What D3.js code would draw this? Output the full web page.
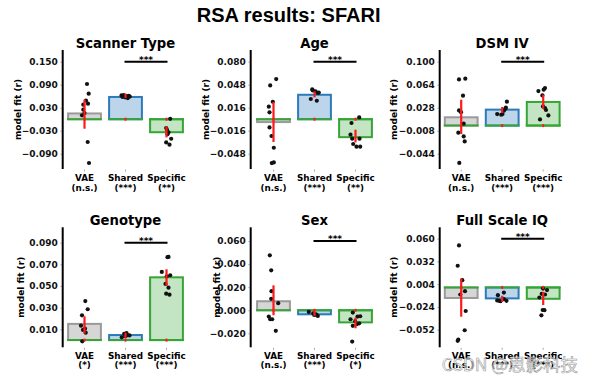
<!DOCTYPE html>
<html><head><meta charset="utf-8">
<script src="https://cdn.jsdelivr.net/npm/d3@7"></script>
<style>body{margin:0;background:#fff}svg{display:block}</style>
</head><body><svg id="c" width="594" height="385"></svg>
<script>
// ---------------- data ----------------
const mainTitle = "RSA results: SFARI";
const categories = ["VAE", "Shared", "Specific"];
const panelTitles = ["Scanner Type", "Age", "DSM IV", "Genotype", "Sex", "Full Scale IQ"];
const sigLabels = [
  ["(n.s.)", "(***)", "(**)"],
  ["(n.s.)", "(***)", "(**)"],
  ["(n.s.)", "(***)", "(***)"],
  ["(*)", "(***)", "(***)"],
  ["(n.s.)", "(***)", "(*)"],
  ["(n.s.)", "(***)", "(***)"]
];
const pairSig = "***";
const yTicks = [
  [0.150, 0.090, 0.030, -0.030, -0.090],
  [0.080, 0.048, 0.016, -0.016, -0.048],
  [0.100, 0.064, 0.028, -0.008, -0.044],
  [0.090, 0.070, 0.050, 0.030, 0.010],
  [0.060, 0.040, 0.020, 0.000, -0.020],
  [0.060, 0.032, 0.004, -0.024, -0.052]
];
const yLimits = [
  [-0.1299, 0.1805],
  [-0.0693, 0.0963],
  [-0.0679, 0.1183],
  [-0.00663, 0.1042],
  [-0.0321, 0.0719],
  [-0.0737, 0.0740]
];
const meanFit = [
  [0.015, 0.058, -0.034],
  [-0.004, 0.034, -0.025],
  [0.013, 0.025, 0.037],
  [0.015, 0.0047, 0.058],
  [0.0078, -0.0035, -0.0105],
  [-0.013, -0.0135, -0.014]
];
const ciLow = [
  [-0.0248, 0.0553, -0.0475],
  [-0.0317, 0.0303, -0.0323],
  [-0.0132, 0.0197, 0.0260],
  [0.0060, 0.0020, 0.0500],
  [-0.0043, -0.0049, -0.0156],
  [-0.0360, -0.0176, -0.0217]
];
const ciHigh = [
  [0.0509, 0.0665, -0.0188],
  [0.0239, 0.0387, -0.0146],
  [0.0405, 0.0291, 0.0483],
  [0.0220, 0.0069, 0.0654],
  [0.0216, 0.0003, -0.0063],
  [0.0108, -0.0103, -0.0054]
];
// individual subject fits per panel, per category
const subjectFits = [
  [[0.0918, 0.0665, 0.0483, 0.0378, 0.0404, 0.0248, 0.0100, 0.016, -0.0595, -0.1143],
   [0.062, 0.063, 0.060, 0.061, 0.058, 0.055, 0.057, 0.059],
   [0.001, -0.023, -0.034, -0.039, -0.051, -0.0605, -0.0665, -0.028]],
  [[0.0559, 0.047, 0.0243, 0.0174, 0.0095, -0.0114, -0.0234, -0.0397, -0.061, -0.0601],
   [0.0415, 0.040, 0.0387, 0.037, 0.0281, 0.0257, 0.0365],
   [0.0025, -0.0053, -0.0216, -0.0271, -0.0271, -0.0345, -0.0383, -0.0383]],
  [[0.0723, 0.0734, 0.0468, 0.0238, 0.021, 0.003, -0.0111, -0.0169, -0.0247, -0.0584],
   [0.0374, 0.028, 0.026, 0.018, 0.018, 0.0233, 0.017],
   [0.0541, 0.0562, 0.0588, 0.0473, 0.030, 0.0275, 0.0244, 0.016, 0.0097]],
  [[0.0361, 0.0285, 0.0229, 0.0133, 0.0106, 0.0094, 0.0069, -0.0011],
   [0.0066, 0.0058, 0.0043, 0.0026, 0.0045, 0.0035],
   [0.0768, 0.0766, 0.063, 0.0599, 0.059, 0.0519, 0.0484, 0.0429, 0.042]],
  [[0.0476, 0.0346, 0.0165, 0.0099, 0.0061, -0.0055, -0.0078, -0.0078, -0.0178],
   [-0.0014, -0.0026, -0.0035, -0.0049, -0.004, -0.0038],
   [-0.002, -0.0055, -0.0052, -0.0078, -0.0095, -0.0113, -0.0135, -0.0121, -0.0271]],
  [[0.0517, 0.0267, 0.0089, -0.0046, -0.0087, -0.029, -0.0527, -0.0641, -0.0657],
   [-0.0063, -0.0095, -0.016, -0.017, -0.0143, -0.0165, -0.0165],
   [-0.0014, -0.0033, -0.0079, -0.0087, -0.0124, -0.0278, -0.028, -0.0344]]
];
// horizontal strip jitter (in px of a 41px band)
const jitterPx = [
  [[2.5, 4.2, 1.5, -1.2, 3.5, -1.2, -2.5, 0, 3.2, 4.5],
   [-4, -1.7, 1, 3.3, -3, 2.3, -0.3, 4.3],
   [3.7, -0.3, 2, 1, 4.7, -0.3, 3, 0.5]],
  [[2.7, -3.3, -0.7, -4.7, -4, -4, -2, 0.3, -1.7, 0.3],
   [-2.3, -1.7, 1, 4.3, -3.7, 2.3, 3.3],
   [3.7, -4, -5, -3.3, 4, -2.3, 1, 4.7]],
  [[-2.2, 4.1, 1.8, -2.2, -0.2, 2.5, -2.9, 2.5, 3.5, -1.9],
   [4.7, 3.7, 3, 0.3, -5, 1.7, -1],
   [-4.8, 0.5, 1.8, -0.8, -0.2, 1.8, 2.8, 5.2, -3.2]],
  [[0.8, 3.2, -2.5, -3.5, 0.5, -1.5, 1.2, -2.2],
   [1, -1.3, 4, -3.7, 2.3, 0],
   [2, 1, -4.7, 3.7, 0.3, -1, 2, -0.3, 3]],
  [[-3.7, -2.3, -2, -2.3, 4.7, -4.7, -1.3, -3.3, 2.3],
   [-5.7, -1.3, 1, 3.3, -0.3, 2],
   [-2.7, 2, 4.7, -5, -0.3, 3.7, -2.7, 1.3, -3.3]],
  [[-2.2, -3.5, 1.1, 3.8, -0.9, 4.5, 3.5, -2.9, -3.5],
   [1.7, -4.3, -5, -1.7, 1.7, 4.3, -3],
   [-0.2, 3.8, -1.5, 1.8, -3.8, -0.5, 1.2, -1.8]]
];
const watermark = "CSDN @思影科技";

// ---------------- layout ----------------
const cols = [
  {axisX: 62.7, x0: 64},
  {axisX: 250.7, x0: 253},
  {axisX: 439.7, x0: 440.7}
];
const rows = [
  {top: 50, bottom: 169, titleY: 47.8, lab1: 181.2, lab2: 191},
  {top: 227.3, bottom: 347.3, titleY: 225.1, lab1: 358.6, lab2: 368.4}
];
const ylabelX = [20.5, 208.5, 397, 23.5, 220, 397];
const barFill = ["#d6d6d6", "#bcd5ea", "#c3e5c3"];
const barEdge = ["#9a9a9a", "#2b7bba", "#35a535"];
const font = "DejaVu Sans";

const svg = d3.select("#c");
svg.append("rect").attr("width", 594).attr("height", 385).attr("fill", "#fff");

svg.append("text").attr("x", 288.6).attr("y", 21.5).attr("text-anchor", "middle")
  .attr("font-family", "Liberation Sans, Arial").attr("font-weight", "bold")
  .attr("font-size", 20).attr("fill", "#000").text(mainTitle);

const fmt = d3.format(".3f");

panelTitles.forEach((title, p) => {
  const col = cols[p % 3], row = rows[Math.floor(p / 3)];
  const g = svg.append("g");
  const x = d3.scaleBand().domain(categories).range([col.x0, col.x0 + 123])
    .paddingInner(0.2).paddingOuter(0.1);
  const y = d3.scaleLinear().domain(yLimits[p]).range([row.bottom, row.top]);
  const cx = c => x(c) + x.bandwidth() / 2;
  const s = x.step() / 41;

  // title
  g.append("text").attr("x", col.x0 + 61.5).attr("y", row.titleY).attr("text-anchor", "middle")
    .attr("font-family", font).attr("font-weight", "bold").attr("font-size", 13.2).text(title);

  // y axis via d3.axisLeft
  const ax = d3.axisLeft(y).tickValues(yTicks[p]).tickFormat(fmt).tickSize(2.5).tickPadding(2.5);
  const axG = g.append("g").attr("transform", `translate(${col.axisX},0)`).call(ax);
  axG.select(".domain").remove();
  axG.selectAll(".tick line").attr("stroke", "#bbb").attr("stroke-width", 1);
  axG.selectAll(".tick text").attr("font-family", font).attr("font-weight", "bold")
    .attr("font-size", 9).attr("fill", "#111");
  g.append("line").attr("x1", col.axisX).attr("x2", col.axisX)
    .attr("y1", y(yLimits[p][1])).attr("y2", y(yLimits[p][0]))
    .attr("stroke", "#000").attr("stroke-width", 2);

  // y label
  g.append("text").attr("transform", `translate(${ylabelX[p]},${(row.top + row.bottom) / 2}) rotate(-90)`)
    .attr("text-anchor", "middle").attr("font-family", font).attr("font-weight", "bold")
    .attr("font-size", 9).text("model fit (r)");

  // bars
  categories.forEach((c, i) => {
    const m = meanFit[p][i];
    g.append("rect").attr("x", x(c)).attr("width", x.bandwidth())
      .attr("y", y(Math.max(0, m))).attr("height", Math.abs(y(m) - y(0)))
      .attr("fill", barFill[i]).attr("stroke", barEdge[i]).attr("stroke-width", 2);
  });
  // zero-height reference bars (green edge at zero)
  categories.forEach((c, i) => {
    g.append("line").attr("x1", x(c) - 1).attr("x2", x(c) + x.bandwidth() + 1)
      .attr("y1", y(0)).attr("y2", y(0)).attr("stroke", "#35a535").attr("stroke-width", 2);
  });
  // points
  categories.forEach((c, i) => {
    subjectFits[p][i].forEach((v, k) => {
      g.append("circle").attr("cx", cx(c) + jitterPx[p][i][k] * s).attr("cy", y(v))
        .attr("r", 2.1).attr("fill", "#111");
    });
  });
  // error bars
  categories.forEach((c, i) => {
    g.append("line").attr("x1", cx(c)).attr("x2", cx(c))
      .attr("y1", y(ciLow[p][i])).attr("y2", y(ciHigh[p][i]))
      .attr("stroke", "#ff1a1a").attr("stroke-width", 2.2);
    g.append("line").attr("x1", cx(c)).attr("x2", cx(c))
      .attr("y1", y(0) - 1.5).attr("y2", y(0) + 1.5)
      .attr("stroke", "#ff1a1a").attr("stroke-width", 2);
  });
  // x ticks & labels
  categories.forEach((c, i) => {
    g.append("line").attr("x1", cx(c)).attr("x2", cx(c)).attr("y1", row.bottom + 0.5).attr("y2", row.bottom + 2.5)
      .attr("stroke", "#aaa").attr("stroke-width", 1);
    g.append("text").attr("x", cx(c)).attr("y", row.lab1).attr("text-anchor", "middle")
      .attr("font-family", font).attr("font-weight", "bold").attr("font-size", 8.8).text(c);
    g.append("text").attr("x", cx(c)).attr("y", row.lab2).attr("text-anchor", "middle")
      .attr("font-family", font).attr("font-weight", "bold").attr("font-size", 8.8).text(sigLabels[p][i]);
  });
  // significance bracket Shared vs Specific
  const sy = y(yTicks[p][0]);
  g.append("line").attr("x1", cx("Shared") - 1).attr("x2", cx("Specific") + 1)
    .attr("y1", sy).attr("y2", sy).attr("stroke", "#000").attr("stroke-width", 2);
  g.append("text").attr("x", (cx("Shared") + cx("Specific")) / 2).attr("y", sy + 1.3)
    .attr("text-anchor", "middle").attr("font-family", font).attr("font-weight", "bold")
    .attr("font-size", 9).text(pairSig);
});

// watermark
svg.append("text").attr("x", 578).attr("y", 371).attr("text-anchor", "end")
  .attr("font-family", "Noto Sans CJK SC").attr("font-size", 17.5)
  .attr("fill", "rgba(255,255,255,0.55)").attr("stroke", "#9a9a9a").attr("stroke-width", 0.6)
  .text(watermark);
</script></body></html>
